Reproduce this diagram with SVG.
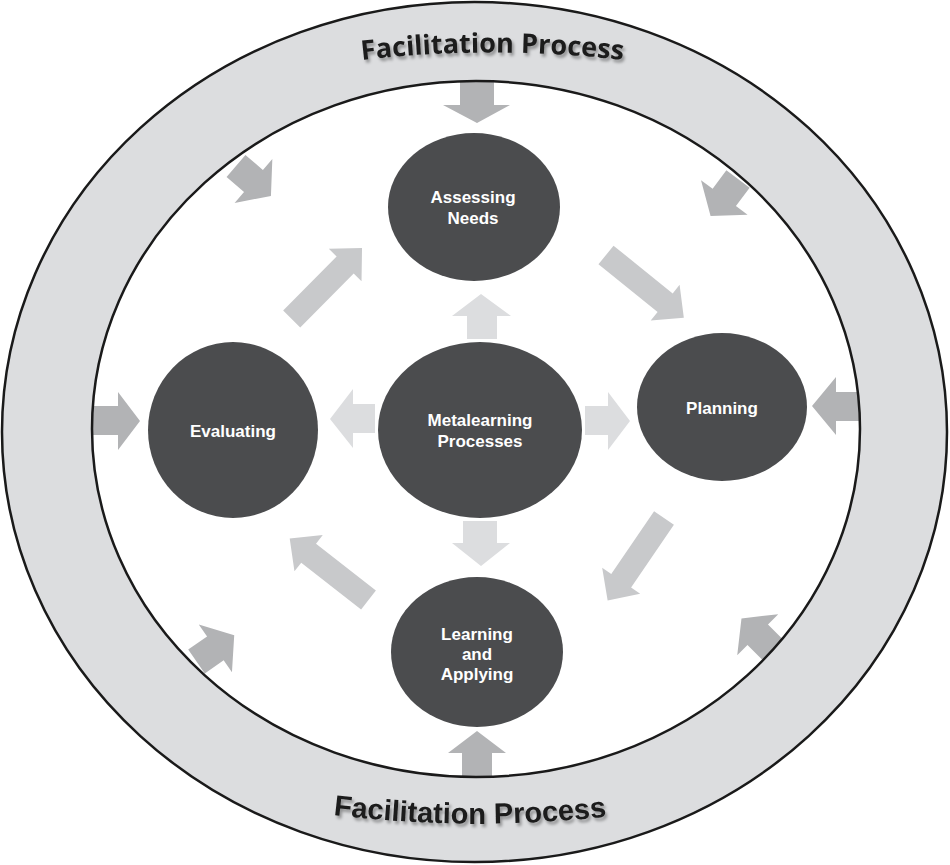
<svg xmlns="http://www.w3.org/2000/svg" xmlns:xlink="http://www.w3.org/1999/xlink" width="950" height="865" viewBox="0 0 950 865">
<style>
.node{fill:#4b4c4e}
.lbl{font-family:"Liberation Sans",Arial,sans-serif;font-weight:bold;font-size:17px;fill:#ffffff;text-anchor:middle}
.outer{fill:#b2b3b5}
.inner{fill:#c8c9cb}
.center{fill:#dcdddf}
.ring{fill:#dcdddf;fill-rule:evenodd;stroke:#1a1a1a;stroke-width:2.5}
.ringtxt{font-weight:bold;fill:#1a1a1a;filter:url(#shadow)}
</style>
<defs>
<filter id="shadow" x="-10%" y="-30%" width="120%" height="160%">
<feDropShadow dx="2" dy="3" stdDeviation="1.8" flood-color="#000" flood-opacity="0.35"/>
</filter>
<polygon id="oarr" points="0,-14.5 23,-14.5 23,-29 46,0 23,29 23,14.5 0,14.5"/>
<polygon id="iarr" points="0,-12 76,-12 76,-23 100,0 76,23 76,12 0,12"/>
<path id="topArc" d="M 330 64 Q 492 41 655 64"/>
<path id="botArc" d="M 310 812 Q 470 834 630 814"/>
</defs>
<rect width="950" height="865" fill="#ffffff"/>
<g id="connectors">
<polygon class="center" points="467,339 467,316 452,316 481,294 511,316 497,316 497,339"/>
<polygon class="center" points="375,404 353,404 353,389 330,419 353,448 353,433 375,433"/>
<polygon class="center" points="585,406 608,406 608,392 630,421 608,450 608,435 585,435"/>
<polygon class="center" points="463,521 497,521 497,543 510,543 481,566 452,543 463,543"/>
<use href="#iarr" class="inner" transform="translate(291.7,319) rotate(-45.3)"/>
<use href="#iarr" class="inner" transform="translate(606,255) rotate(38.9)"/>
<use href="#iarr" class="inner" transform="translate(664,518) rotate(124.3)"/>
<use href="#iarr" class="inner" transform="translate(368.5,600) rotate(-142)"/>
<polygon class="outer" points="460,70 494,70 494,105 510,105 477,123 443,105 460,105"/>
<polygon class="outer" points="80,406 118,406 118,392 140,421 118,450 118,435 80,435"/>
<polygon class="outer" points="870,392 836,392 836,377 812,406 836,435 836,421 870,421"/>
<polygon class="outer" points="462,800 462,753 448,753 477,731 506,753 492,753 492,800"/>
<use href="#oarr" class="outer" transform="translate(236,166) rotate(40.6)"/>
<use href="#oarr" class="outer" transform="translate(738,179) rotate(126.6)"/>
<use href="#oarr" class="outer" transform="translate(196.5,661.5) rotate(-34.9)"/>
<use href="#oarr" class="outer" transform="translate(774,651) rotate(-135)"/>
</g>
<g id="facilitation-ring">
<path class="ring" d="M 2 432 A 472.5 430 0 1 0 947 432 A 472.5 430 0 1 0 2 432 Z M 92 429 A 384 348 0 1 0 860 429 A 384 348 0 1 0 92 429 Z"/>
<text class="ringtxt" font-family="'Open Sans','Liberation Sans',sans-serif" font-size="27"><textPath href="#topArc" startOffset="50%" text-anchor="middle">Facilitation Process</textPath></text>
<text class="ringtxt" font-family="'Liberation Sans',Arial,sans-serif" font-size="29"><textPath href="#botArc" startOffset="50%" text-anchor="middle">Facilitation Process</textPath></text>
</g>
<g id="assessing-needs">
<ellipse class="node" cx="474" cy="207" rx="86" ry="74"/>
<text class="lbl" x="473" y="203">Assessing</text>
<text class="lbl" x="473" y="224">Needs</text>
</g>
<g id="metalearning">
<ellipse class="node" cx="480" cy="430" rx="102" ry="88"/>
<text class="lbl" x="480" y="426">Metalearning</text>
<text class="lbl" x="480" y="447">Processes</text>
</g>
<g id="planning">
<ellipse class="node" cx="722" cy="407" rx="85" ry="74"/>
<text class="lbl" x="722" y="414">Planning</text>
</g>
<g id="evaluating">
<ellipse class="node" cx="233" cy="430" rx="85" ry="88"/>
<text class="lbl" x="233" y="437">Evaluating</text>
</g>
<g id="learning-applying">
<ellipse class="node" cx="477" cy="652" rx="86" ry="75"/>
<text class="lbl" x="477" y="640">Learning</text>
<text class="lbl" x="477" y="660">and</text>
<text class="lbl" x="477" y="680">Applying</text>
</g>
</svg>
